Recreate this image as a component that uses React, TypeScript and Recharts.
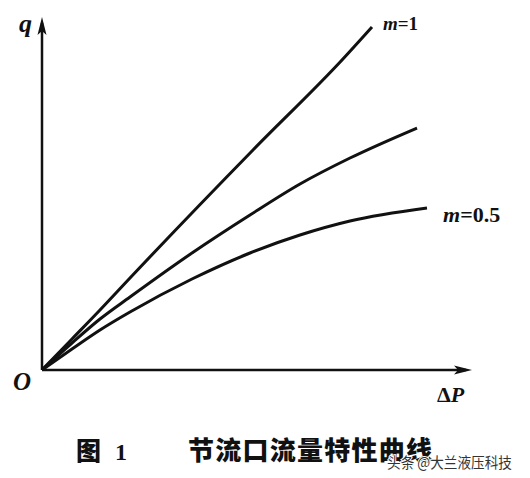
import { LineChart, Line, XAxis, YAxis, ReferenceLine, ReferenceDot } from 'recharts';

// ΔP / q readings, in the figure's own (pixel-like) units from origin O
const m1Curve = [
  { p: 0, q: 0 },
  { p: 30, q: 31 },
  { p: 58, q: 60 },
  { p: 88, q: 92 },
  { p: 211, q: 220 },
  { p: 300, q: 310 },
  { p: 330, q: 343 },
];

const midCurve = [
  { p: 0, q: 0 },
  { p: 30, q: 27 },
  { p: 58, q: 51 },
  { p: 88, q: 73 },
  { p: 150, q: 117 },
  { p: 208, q: 155 },
  { p: 258, q: 186 },
  { p: 308, q: 212 },
  { p: 375, q: 242 },
];

const m05Curve = [
  { p: 0, q: 0 },
  { p: 30, q: 21 },
  { p: 58, q: 40 },
  { p: 88, q: 58 },
  { p: 150, q: 91 },
  { p: 208, q: 117 },
  { p: 258, q: 135 },
  { p: 308, q: 149 },
  { p: 385, q: 162 },
];

const xMax = 430;
const yMax = 353;

const curveLabels = ['m=1', 'm=0.5'];
const captionNo = '图';
const captionNum = '1';
const captionTitle = '节流口流量特性曲线';
const watermark = '头条 @大兰液压科技';

const serif = '"Liberation Serif", "DejaVu Serif", serif';
const cjk = '"Noto Sans CJK SC", sans-serif';

const ArrowUp = ({ cx, cy }: any) => (
  <path d={`M${cx},${cy} L${cx - 4.5},${cy + 18} L${cx},${cy + 14} L${cx + 4.5},${cy + 18} Z`} fill="#111" />
);

const ArrowRight = ({ cx, cy }: any) => (
  <path d={`M${cx},${cy} L${cx - 18},${cy - 4.5} L${cx - 14},${cy} L${cx - 18},${cy + 4.5} Z`} fill="#111" />
);

export default function App() {
  return (
    <div style={{ position: 'absolute', left: 0, top: 0, width: 530, height: 478, background: '#fff' }}>
      <LineChart width={530} height={478} margin={{ top: 17, right: 58, bottom: 108, left: 42 }}>
        <XAxis type="number" dataKey="p" domain={[0, xMax]} hide allowDataOverflow />
        <YAxis type="number" dataKey="q" domain={[0, yMax]} hide allowDataOverflow />
        <ReferenceLine segment={[{ x: 0, y: 0 }, { x: xMax - 6, y: 0 }]} stroke="#111" strokeWidth={2.5} ifOverflow="visible" />
        <ReferenceLine segment={[{ x: 0, y: 0 }, { x: 0, y: yMax - 6 }]} stroke="#111" strokeWidth={2.5} ifOverflow="visible" />
        <ReferenceDot x={xMax} y={0} ifOverflow="visible" shape={ArrowRight} />
        <ReferenceDot x={0} y={yMax} ifOverflow="visible" shape={ArrowUp} />
        <Line data={m1Curve} dataKey="q" type="monotone" stroke="#111" strokeWidth={3} dot={false} isAnimationActive={false} />
        <Line data={midCurve} dataKey="q" type="monotone" stroke="#111" strokeWidth={3} dot={false} isAnimationActive={false} />
        <Line data={m05Curve} dataKey="q" type="monotone" stroke="#111" strokeWidth={3} dot={false} isAnimationActive={false} />
      </LineChart>
      <svg width={530} height={478} style={{ position: 'absolute', left: 0, top: 0, pointerEvents: 'none' }}>
        <g fontFamily={serif} fontWeight="bold" fill="#111">
          <text x={19} y={32} fontSize={26} fontStyle="italic">q</text>
          <text x={13} y={390} fontSize={25} fontStyle="italic">O</text>
          <text x={437} y={402} fontSize={22}>
            Δ<tspan fontStyle="italic">P</tspan>
          </text>
          <text x={383} y={30} fontSize={19}>
            <tspan fontStyle="italic">{curveLabels[0].slice(0, 1)}</tspan>
            {curveLabels[0].slice(1)}
          </text>
          <text x={443} y={222} fontSize={22}>
            <tspan fontStyle="italic">{curveLabels[1].slice(0, 1)}</tspan>
            {curveLabels[1].slice(1)}
          </text>
          <text x={115} y={460} fontSize={24}>{captionNum}</text>
        </g>
        <g fontFamily={cjk} fontWeight={900} fill="#111">
          <text x={76} y={460} fontSize={25}>{captionNo}</text>
          <text x={188} y={460} fontSize={26} textLength={244} lengthAdjust="spacing">{captionTitle}</text>
        </g>
        <text
          x={387}
          y={468}
          fontFamily={cjk}
          fontSize={15}
          fill="#333"
          stroke="#fff"
          strokeWidth={2}
          paintOrder="stroke"
          textLength={125}
          lengthAdjust="spacingAndGlyphs"
        >
          {watermark}
        </text>
      </svg>
    </div>
  );
}
